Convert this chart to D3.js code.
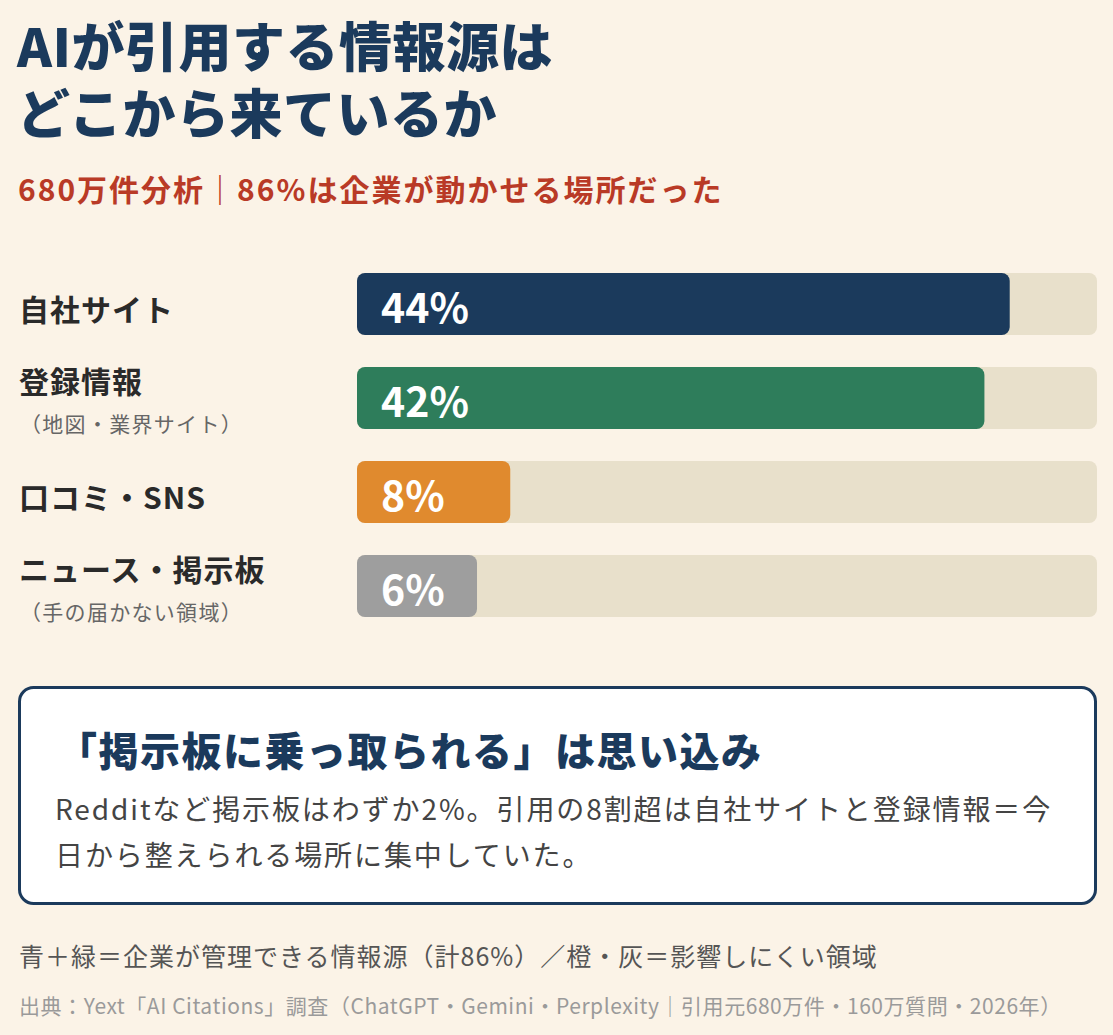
<!DOCTYPE html>
<html>
<head>
<meta charset="utf-8">
<script src="https://cdn.jsdelivr.net/npm/d3@7"></script>
<style>
  html, body { margin: 0; padding: 0; background: #FBF3E7; }
  svg { display: block; font-family: "Noto Sans CJK JP", "Noto Sans", sans-serif; }
</style>
</head>
<body>
<div id="chart"></div>
<script>
// ---- data ----
var categories = ["自社サイト", "登録情報", "口コミ・SNS", "ニュース・掲示板"];
var subLabels = ["", "（地図・業界サイト）", "", "（手の届かない領域）"];
var shares = [44, 42, 8, 6];
var barColors = ["#1B3A5C", "#2E7D5B", "#E08A2E", "#9E9E9E"];

var titleLines = ["AIが引用する情報源は", "どこから来ているか"];
var subtitle = "680万件分析｜86%は企業が動かせる場所だった";
var boxTitle = "「掲示板に乗っ取られる」は思い込み";
var boxBody = ["Redditなど掲示板はわずか2%。引用の8割超は自社サイトと登録情報＝今",
               "日から整えられる場所に集中していた。"];
var legendNote = "青＋緑＝企業が管理できる情報源（計86%）／橙・灰＝影響しにくい領域";
var sourceNote = "出典：Yext「AI Citations」調査（ChatGPT・Gemini・Perplexity｜引用元680万件・160万質問・2026年）";

// ---- layout ----
var W = 1113, H = 1035;
var navy = "#1B3A5C";

var svg = d3.select("#chart").append("svg")
    .attr("width", W)
    .attr("height", H);

svg.append("rect")
    .attr("width", W)
    .attr("height", H)
    .attr("fill", "#FBF3E7");

// title
svg.selectAll(".title")
    .data(titleLines)
    .enter()
    .append("text")
    .attr("class", "title")
    .attr("x", 17)
    .attr("y", function (d, i) { return 67 + i * 67; })
    .attr("fill", navy)
    .attr("font-size", 53)
    .attr("font-weight", 900)
    .attr("letter-spacing", 0.5)
    .text(function (d) { return d; });

svg.append("text")
    .attr("x", 18)
    .attr("y", 201)
    .attr("fill", "#B93A26")
    .attr("font-size", 30)
    .attr("font-weight", 700)
    .attr("letter-spacing", 2)
    .text(subtitle);

// scales
var trackX = 357, trackW = 740;
var x = d3.scalePow()
    .exponent(0.85)
    .domain([0, 51])
    .range([0, trackW]);

var y = d3.scaleBand()
    .domain(categories)
    .range([273, 617])
    .paddingInner(0.34)
    .paddingOuter(0);

var rows = svg.selectAll(".row")
    .data(categories)
    .enter()
    .append("g")
    .attr("class", "row")
    .attr("transform", function (d) { return "translate(0," + y(d) + ")"; });

var bh = y.bandwidth();

// track
rows.append("rect")
    .attr("x", trackX)
    .attr("width", trackW)
    .attr("height", bh)
    .attr("rx", 8)
    .attr("fill", "#E8E0CB");

// bar
rows.append("rect")
    .attr("x", trackX)
    .attr("width", function (d, i) { return x(shares[i]); })
    .attr("height", bh)
    .attr("rx", 8)
    .attr("fill", function (d, i) { return barColors[i]; });

// value label
rows.append("text")
    .attr("x", trackX + 24)
    .attr("y", bh / 2 + 19)
    .attr("fill", "#FFFFFF")
    .attr("font-size", 41)
    .attr("font-weight", 700)
    .text(function (d, i) { return shares[i] + "%"; });

// category label
rows.append("text")
    .attr("x", 19)
    .attr("y", function (d, i) { return bh / 2 + (subLabels[i] ? -18 : 4); })
    .attr("dominant-baseline", "central")
    .attr("fill", "#2A2A2A")
    .attr("font-size", 30)
    .attr("font-weight", 700)
    .attr("letter-spacing", 1)
    .text(function (d) { return d; });

rows.filter(function (d, i) { return subLabels[i]; })
    .append("text")
    .attr("x", 20)
    .attr("y", bh / 2 + 25)
    .attr("dominant-baseline", "central")
    .attr("fill", "#666666")
    .attr("font-size", 21)
    .attr("letter-spacing", 1.3)
    .text(function (d, i) { return subLabels[categories.indexOf(d)]; });

// callout box
svg.append("rect")
    .attr("x", 19.5)
    .attr("y", 687.5)
    .attr("width", 1076)
    .attr("height", 216)
    .attr("rx", 14)
    .attr("fill", "#FFFFFF")
    .attr("stroke", navy)
    .attr("stroke-width", 3);

svg.append("text")
    .attr("x", 57)
    .attr("y", 766)
    .attr("fill", navy)
    .attr("font-size", 40)
    .attr("font-weight", 900)
    .attr("letter-spacing", 1.5)
    .text(boxTitle);

svg.selectAll(".body")
    .data(boxBody)
    .enter()
    .append("text")
    .attr("class", "body")
    .attr("x", 55)
    .attr("y", function (d, i) { return 820 + i * 46; })
    .attr("fill", "#444444")
    .attr("font-size", 28)
    .attr("letter-spacing", 1.9)
    .text(function (d) { return d; });

// notes
svg.append("text")
    .attr("x", 19)
    .attr("y", 966)
    .attr("fill", "#555555")
    .attr("font-size", 25)
    .attr("letter-spacing", 1)
    .text(legendNote);

svg.append("text")
    .attr("x", 19)
    .attr("y", 1014)
    .attr("fill", "#9A9A9A")
    .attr("font-size", 21)
    .attr("letter-spacing", 0.55)
    .text(sourceNote);
</script>
</body>
</html>
